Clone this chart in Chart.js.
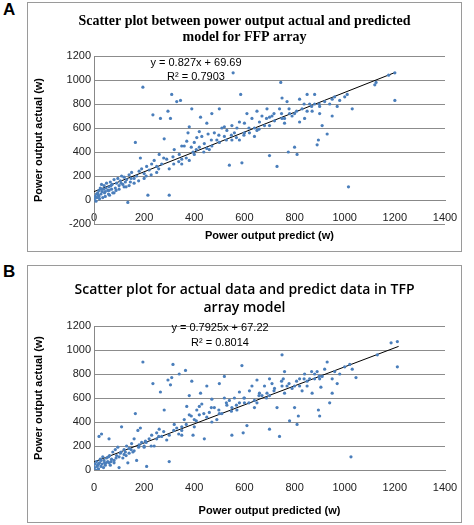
<!DOCTYPE html>
<html><head><meta charset="utf-8">
<script src="https://cdn.jsdelivr.net/npm/chart.js@4"></script>
<style>
body{margin:0;background:#fff;width:474px;height:525px;position:relative;overflow:hidden;font-family:"Liberation Sans",Arial,sans-serif}
.box{position:absolute;left:27px;width:435px;border:1px solid #9a9a9a;box-sizing:border-box}
.lab{position:absolute;left:3px;font-weight:bold;font-size:17px}
</style></head><body>
<div class="lab" style="top:0px">A</div>
<div class="lab" style="top:262px">B</div>
<div class="box" style="top:2px;height:250px"><canvas id="cA"></canvas></div>
<div class="box" style="top:265px;height:258px"><canvas id="cB"></canvas></div>
<script>
const titleA=["Scatter plot between power output actual and predicted","model for FFP array"];
const titleB=["Scatter plot for actual data and predict data in TFP","array model"];
const eqA=["y = 0.827x + 69.69","R² = 0.7903"];
const eqB=["y = 0.7925x + 67.22","R² = 0.8014"];
const xTitleA="Power output predict (w)", xTitleB="Power output predicted (w)";
const yTitle="Power output actual (w)";
const trendA=[[0,69.69],[1200,1062.09]];
const trendB=[[0,67.22],[1215,1030.1]];
const ffpPoints=[[2,10],[5,30],[8,-10],[10,50],[12,20],[15,60],[18,40],[20,80],[22,10],[25,100],[28,50],[30,130],[32,70],[35,20],[38,90],[40,120],[42,60],[45,30],[48,100],[50,140],[55,80],[60,110],[62,40],[65,150],[70,90],[72,130],[75,60],[80,170],[85,100],[90,140],[95,180],[100,120],[105,160],[110,200],[115,130],[120,190],[125,150],[130,170],[135,-20],[140,210],[145,150],[150,230],[160,180],[165,480],[170,200],[180,240],[185,350],[190,260],[195,940],[200,220],[210,280],[215,40],[220,250],[230,300],[235,710],[240,330],[250,280],[260,380],[265,680],[270,300],[280,510],[290,340],[295,740],[300,40],[305,680],[310,880],[315,360],[320,420],[330,820],[340,380],[345,830],[350,300],[360,450],[370,490],[375,560],[380,610],[390,760],[395,400],[400,480],[410,520],[420,440],[425,690],[430,530],[440,470],[450,640],[455,550],[460,420],[470,720],[480,560],[490,500],[500,760],[510,600],[520,530],[530,580],[540,290],[550,620],[555,1060],[560,560],[570,600],[580,500],[585,880],[590,310],[600,640],[610,720],[620,560],[630,680],[640,600],[650,740],[660,650],[670,700],[680,620],[690,760],[700,370],[710,700],[720,660],[730,280],[740,760],[745,980],[750,850],[760,680],[770,820],[775,400],[780,720],[790,700],[800,440],[810,380],[820,840],[830,760],[840,680],[850,880],[860,800],[870,740],[880,880],[890,460],[895,500],[900,780],[910,620],[920,820],[930,550],[940,800],[950,840],[960,860],[970,780],[980,830],[1000,860],[1010,880],[1015,110],[1030,760],[1120,960],[1125,980],[1175,1040],[1200,830],[1200,1060],[80,60],[60,80],[100,90],[120,110],[140,120],[160,140],[200,180],[250,230],[300,260],[350,340],[400,380],[450,430],[500,480],[550,500],[600,560],[650,580],[700,620],[750,680],[800,720],[850,740],[900,720],[350,450],[380,330],[420,570],[470,450],[520,610],[580,650],[640,530],[700,690],[760,640],[820,650],[880,800],[950,700],[20,30],[30,90],[45,70],[58,50],[68,120],[88,80],[108,140],[128,110],[148,180],[178,160],[208,200],[228,210],[258,260],[278,350],[318,300],[338,320],[368,350],[388,440],[408,420],[438,400],[468,500],[498,540],[528,500],[548,540],[568,520],[598,540],[618,600],[658,590],[688,680],[718,720],[748,720],[778,760],[808,740],[838,800],[868,780],[898,800]];
const tfpPoints=[[2,20],[5,50],[8,0],[10,70],[12,30],[15,40],[18,10],[20,280],[22,60],[25,90],[28,30],[30,300],[32,50],[35,110],[38,20],[40,80],[42,60],[45,40],[50,100],[55,70],[60,260],[62,120],[65,40],[70,90],[75,150],[80,60],[85,170],[90,120],[95,190],[100,20],[105,140],[110,360],[115,100],[120,170],[125,150],[130,200],[135,60],[140,180],[150,220],[155,150],[160,260],[165,470],[170,80],[175,330],[180,210],[185,350],[190,230],[195,900],[200,190],[205,240],[210,30],[220,260],[230,290],[235,720],[240,200],[250,310],[260,340],[265,650],[270,280],[280,500],[290,250],[295,750],[300,70],[305,710],[310,770],[315,880],[320,380],[330,350],[340,800],[350,330],[360,420],[365,830],[370,530],[380,620],[390,740],[395,290],[400,360],[410,500],[420,460],[425,640],[430,550],[440,260],[450,700],[460,480],[470,590],[480,520],[490,420],[500,720],[510,470],[520,780],[530,540],[540,580],[550,290],[560,600],[570,500],[580,650],[590,870],[595,310],[600,560],[610,370],[620,660],[630,700],[640,580],[650,750],[660,640],[670,620],[680,700],[690,640],[700,340],[710,720],[720,680],[730,520],[740,280],[750,960],[755,760],[760,820],[770,700],[780,410],[790,680],[800,520],[810,380],[815,450],[820,760],[830,660],[840,800],[850,700],[860,760],[870,640],[880,800],[890,820],[895,500],[900,450],[905,690],[910,780],[920,840],[930,900],[940,560],[950,760],[960,820],[970,720],[980,800],[1000,860],[1020,880],[1025,110],[1030,840],[1045,770],[1130,960],[1185,1060],[1210,1070],[1210,860],[80,80],[60,60],[100,110],[120,130],[140,140],[160,160],[200,200],[250,260],[300,290],[350,360],[400,420],[450,440],[500,470],[550,520],[600,600],[650,560],[700,620],[750,700],[800,700],[850,740],[900,760],[350,290],[380,460],[420,530],[470,400],[520,600],[580,560],[640,520],[700,760],[760,640],[820,700],[880,760],[950,640],[18,50],[28,80],[48,60],[58,110],[68,70],[88,100],[108,150],[128,120],[148,170],[178,190],[208,230],[228,200],[258,280],[278,320],[318,330],[338,300],[368,380],[388,450],[408,410],[438,470],[468,520],[498,500],[528,560],[548,490],[568,540],[598,600],[618,560],[658,620],[688,600],[718,660],[748,740],[778,720],[808,740],[838,760],[868,820],[898,780]];

const toXY=a=>a.map(p=>({x:p[0],y:p[1]}));
function textPlugin(title,tFont,tY,eq,eqX,eqY){
  return {id:'txt',afterDraw(c){const g=c.ctx;g.save();g.fillStyle='#000';g.textAlign='center';g.textBaseline='middle';
    g.font=tFont;title.forEach((t,i)=>g.fillText(t,c.width/(window.devicePixelRatio||1)/2,tY[i]));
    g.font='11px "Liberation Sans",Arial';eq.forEach((t,i)=>g.fillText(t,eqX,eqY[i]));g.restore();}};
}
const plain=v=>String(v);
function make(id,pts,trend,xTitle,yMin,xPos,pad,yW,xH,plug){
  return new Chart(document.getElementById(id),{
    type:'scatter',
    data:{datasets:[
      {data:toXY(pts),backgroundColor:'#4a7ebb',borderColor:'#4a7ebb',pointRadius:1.6,pointBorderWidth:0},
      {type:'line',data:toXY(trend),borderColor:'#000',borderWidth:1,pointRadius:0,fill:false}
    ]},
    options:{responsive:true,maintainAspectRatio:false,animation:false,
      layout:{padding:pad},
      plugins:{legend:{display:false},tooltip:{enabled:false}},
      scales:{
        x:{type:'linear',position:xPos,min:0,max:1400,ticks:{stepSize:200,color:'#222',font:{size:11},maxRotation:0,callback:plain},
           grid:{display:false,drawTicks:true},border:{color:'#888'},
           title:{display:true,text:xTitle,color:'#000',font:{size:11,weight:'bold'},padding:{top:2}},
           afterFit:xH?(s=>{s.height=xH}):undefined},
        y:{min:yMin,max:1200,ticks:{stepSize:200,color:'#222',font:{size:11},callback:plain},
           grid:{color:'#8c8c8c',drawTicks:false},border:{color:'#888'},
           title:{display:true,text:yTitle,color:'#000',font:{size:11,weight:'bold'}},
           afterFit:s=>{s.width=yW}}
      }},
    plugins:[plug]
  });
}
make('cA',ffpPoints,trendA,xTitleA,-200,{y:0},{top:53,right:16,bottom:27,left:0},66,null,
  textPlugin(titleA,'bold 14px "Liberation Serif",serif',[18,34],eqA,168,[60,74]));
make('cB',tfpPoints,trendB,xTitleB,0,'bottom',{top:60,right:16,bottom:0,left:0},66,52,
  textPlugin(titleB,'600 14px "Open Sans",sans-serif',[24,42],eqB,192,[62,77]));
</script>
</body></html>
